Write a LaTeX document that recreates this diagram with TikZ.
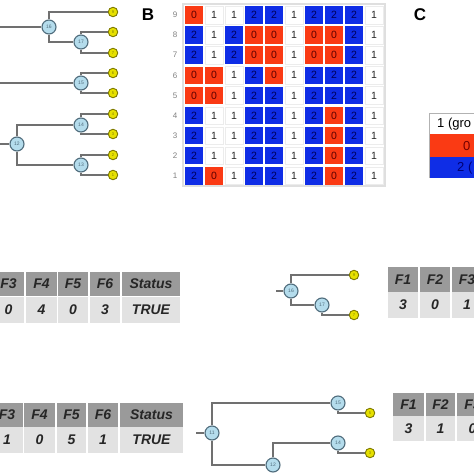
\documentclass[tikz,border=0pt]{standalone}
\usepackage{fontspec}
\setmainfont{Liberation Sans}
\definecolor{treeline}{HTML}{707070}
\definecolor{nodeblue}{HTML}{B4DCEC}
\definecolor{nodeborder}{HTML}{4F6C7C}
\definecolor{leafyellow}{HTML}{E6E000}
\definecolor{leafborder}{HTML}{7E7A00}
\definecolor{gridred}{HTML}{FA3A14}
\definecolor{gridblue}{HTML}{0F2DE6}
\definecolor{headgray}{HTML}{9A9A9A}
\definecolor{datagray}{HTML}{E2E2E2}
\begin{document}
\begin{tikzpicture}[x=1pt,y=-1pt,
  edge/.style={draw=treeline, line width=1.5pt},
  inode/.style={circle, fill=nodeblue, draw=nodeborder, line width=1.1pt, minimum size=14pt, inner sep=0pt, font=\fontsize{5}{5}\selectfont, text=nodeborder},
  leaf/.style={circle, fill=leafyellow, draw=leafborder, line width=0.9pt, minimum size=9.5pt, inner sep=0pt, font=\fontsize{4}{4}\selectfont, text=leafborder},
  cellbase/.style={rectangle, minimum width=18pt, minimum height=17.5pt, inner sep=0pt, font=\fontsize{10.5}{10.5}\selectfont},
  cell0/.style={cellbase, fill=gridred, text=red!35!black},
  cell1/.style={cellbase, fill=white, draw=gray!15, text=black!85},
  cell2/.style={cellbase, fill=gridblue, text=blue!35!black},
  rowlab/.style={font=\fontsize{8}{8}\selectfont, text=gray},
  panel/.style={font=\fontsize{17}{17}\selectfont\bfseries},
  hcell/.style={rectangle, fill=headgray, inner sep=0pt, font=\fontsize{14}{14}\selectfont\bfseries\itshape, text=black!85},
  dcell/.style={rectangle, fill=datagray, inner sep=0pt, font=\fontsize{14}{14}\selectfont\bfseries\itshape, text=black!85},
  legtext/.style={anchor=west, inner sep=0pt, font=\fontsize{13}{13}\selectfont}
]
\useasboundingbox (0,0) rectangle (474,474);
\fill[white] (0,0) rectangle (474,474);

% ---------- Tree A (top left) ----------
\node[leaf] (l9) at (113,12) {9};
\node[leaf] (l8) at (113,32) {8};
\node[leaf] (l7) at (113,53) {7};
\node[leaf] (l6) at (113,73) {6};
\node[leaf] (l5) at (113,93) {5};
\node[leaf] (l4) at (113,114) {4};
\node[leaf] (l3) at (113,134) {3};
\node[leaf] (l2) at (113,155) {2};
\node[leaf] (l1) at (113,175) {1};
\node[inode] (n16) at (49,27) {16};
\node[inode] (n17) at (81,42) {17};
\node[inode] (n15) at (81,83) {15};
\node[inode] (n14) at (81,125) {14};
\node[inode] (n13) at (81,165) {13};
\node[inode] (n12) at (17,144) {12};
\coordinate (s16) at (-2,27);
\coordinate (s15) at (-2,83);
\coordinate (s12) at (-2,144);
\draw[edge] (s16) -- (n16);
\draw[edge] (s15) -- (n15);
\draw[edge] (s12) -- (n12);
\draw[edge] (n16) |- (l9);
\draw[edge] (n16) |- (n17);
\draw[edge] (n17) |- (l8);
\draw[edge] (n17) |- (l7);
\draw[edge] (n15) |- (l6);
\draw[edge] (n15) |- (l5);
\draw[edge] (n12) |- (n14);
\draw[edge] (n12) |- (n13);
\draw[edge] (n14) |- (l4);
\draw[edge] (n14) |- (l3);
\draw[edge] (n13) |- (l2);
\draw[edge] (n13) |- (l1);

% ---------- Panel B (grid) ----------
\node[panel] (labB) at (148,15) {B};
\draw[draw=gray!25, line width=2.2pt, fill=white] (183,4) rectangle (385,186);
\foreach \r/\vals in {9/{0,1,1,2,2,1,2,2,2,1},
                      8/{2,1,2,0,0,1,0,0,2,1},
                      7/{2,1,2,0,0,1,0,0,2,1},
                      6/{0,0,1,2,0,1,2,2,2,1},
                      5/{0,0,1,2,2,1,2,2,2,1},
                      4/{2,1,1,2,2,1,2,0,2,1},
                      3/{2,1,1,2,2,1,2,0,2,1},
                      2/{2,1,1,2,2,1,2,0,2,1},
                      1/{2,0,1,2,2,1,2,0,2,1}}{
  \pgfmathsetmacro{\yy}{15+(9-\r)*20.1}
  \node[rowlab] (rl\r) at (175,\yy) {\r};
  \foreach \v [count=\c] in \vals {
    \pgfmathsetmacro{\xx}{194+(\c-1)*20}
    \node[cell\v] (g\r-\c) at (\xx,\yy) {\v};
  }
}

% ---------- Panel C (legend) ----------
\node[panel] (labC) at (420,15) {C};
\draw[draw=gray!60, fill=white, line width=0.6pt] (429,113) rectangle (480,134);
\fill[gridred] (429,134) rectangle (480,157);
\fill[gridblue] (429,157) rectangle (480,178);
\draw[gray!60, line width=0.6pt] (429,113) -- (429,178);
\node[legtext] (lg1) at (437,124) {1 (gro};
\node[legtext, text=red!45!black] (lg0) at (463,146) {0};
\node[legtext, text=blue!45!black] (lg2) at (457,168) {2 (};

% ---------- Table 1 ----------
\node[hcell, minimum width=31pt, minimum height=24pt] (t1h3) at (8.5,284) {F3};
\node[hcell, minimum width=31pt, minimum height=24pt] (t1h4) at (41.5,284) {F4};
\node[hcell, minimum width=30pt, minimum height=24pt] (t1h5) at (73,284) {F5};
\node[hcell, minimum width=30pt, minimum height=24pt] (t1h6) at (105,284) {F6};
\node[hcell, minimum width=58pt, minimum height=24pt] (t1hs) at (151,284) {Status};
\node[dcell, minimum width=31pt, minimum height=26pt] (t1d3) at (8.5,309.5) {0};
\node[dcell, minimum width=31pt, minimum height=26pt] (t1d4) at (41.5,309.5) {4};
\node[dcell, minimum width=30pt, minimum height=26pt] (t1d5) at (73,309.5) {0};
\node[dcell, minimum width=30pt, minimum height=26pt] (t1d6) at (105,309.5) {3};
\node[dcell, minimum width=58pt, minimum height=26pt] (t1ds) at (151,309.5) {TRUE};

% ---------- Table 2 ----------
\node[hcell, minimum width=32pt, minimum height=24pt] (t2h3) at (7,415) {F3};
\node[hcell, minimum width=31pt, minimum height=24pt] (t2h4) at (39.5,415) {F4};
\node[hcell, minimum width=29pt, minimum height=24pt] (t2h5) at (71.5,415) {F5};
\node[hcell, minimum width=30pt, minimum height=24pt] (t2h6) at (103,415) {F6};
\node[hcell, minimum width=63pt, minimum height=24pt] (t2hs) at (151.5,415) {Status};
\node[dcell, minimum width=32pt, minimum height=26pt] (t2d3) at (7,440) {1};
\node[dcell, minimum width=31pt, minimum height=26pt] (t2d4) at (39.5,440) {0};
\node[dcell, minimum width=29pt, minimum height=26pt] (t2d5) at (71.5,440) {5};
\node[dcell, minimum width=30pt, minimum height=26pt] (t2d6) at (103,440) {1};
\node[dcell, minimum width=63pt, minimum height=26pt] (t2ds) at (151.5,440) {TRUE};

% ---------- Middle-right tree ----------
\node[leaf] (m9) at (354,275) {9};
\node[leaf] (m7) at (354,315) {7};
\node[inode] (m16) at (291,291) {16};
\node[inode] (m17) at (322,305) {17};
\coordinate (ms) at (276,291);
\draw[edge] (ms) -- (m16);
\draw[edge] (m16) |- (m9);
\draw[edge] (m16) |- (m17);
\draw[edge] (m17) |- (m7);

% ---------- Table 3 ----------
\node[hcell, minimum width=30pt, minimum height=25pt] (t3h1) at (403,279.5) {F1};
\node[hcell, minimum width=30pt, minimum height=25pt] (t3h2) at (435,279.5) {F2};
\node[hcell, minimum width=30pt, minimum height=25pt] (t3h3) at (467,279.5) {F3};
\node[dcell, minimum width=30pt, minimum height=26pt] (t3d1) at (403,305) {3};
\node[dcell, minimum width=30pt, minimum height=26pt] (t3d2) at (435,305) {0};
\node[dcell, minimum width=30pt, minimum height=26pt] (t3d3) at (467,305) {1};

% ---------- Bottom-right tree ----------
\node[inode] (b11) at (212,433) {11};
\node[inode] (b15) at (338,403) {15};
\node[inode] (b14) at (338,443) {14};
\node[inode] (b12) at (273,465) {12};
\node[leaf] (b5) at (370,413) {5};
\node[leaf] (b3) at (370,453) {3};
\coordinate (bs) at (196,433);
\draw[edge] (bs) -- (b11);
\draw[edge] (b11) |- (b15);
\draw[edge] (b11) |- (b12);
\draw[edge] (b12) |- (b14);
\draw[edge] (b15) |- (b5);
\draw[edge] (b14) |- (b3);

% ---------- Table 4 ----------
\node[hcell, minimum width=31pt, minimum height=23pt] (t4h1) at (408.5,404.5) {F1};
\node[hcell, minimum width=29pt, minimum height=23pt] (t4h2) at (440.5,404.5) {F2};
\node[hcell, minimum width=31pt, minimum height=23pt] (t4h3) at (472.5,404.5) {F3};
\node[dcell, minimum width=31pt, minimum height=25pt] (t4d1) at (408.5,428.5) {3};
\node[dcell, minimum width=29pt, minimum height=25pt] (t4d2) at (440.5,428.5) {1};
\node[dcell, minimum width=31pt, minimum height=25pt] (t4d3) at (472.5,428.5) {0};
\end{tikzpicture}
\end{document}
